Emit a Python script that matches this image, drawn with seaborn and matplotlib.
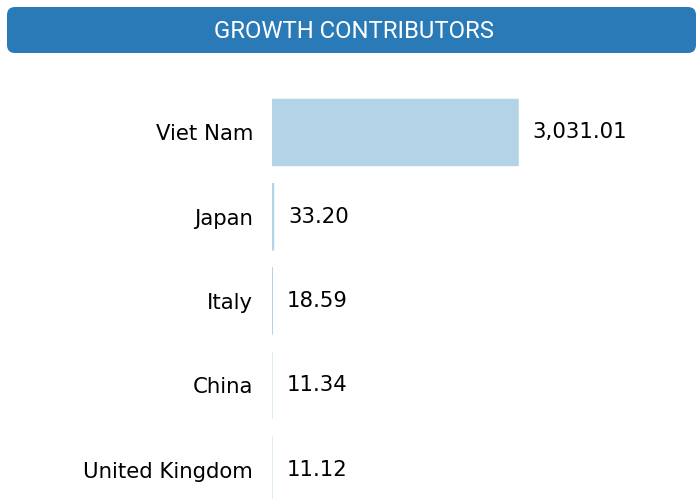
import matplotlib
matplotlib.use("Agg")
import matplotlib.pyplot as plt
from matplotlib.patches import FancyBboxPatch
import seaborn as sns
import pandas as pd

countries = ["Viet Nam", "Japan", "Italy", "China", "United Kingdom"]
values = [3031.01, 33.20, 18.59, 11.34, 11.12]
value_labels = ["3,031.01", "33.20", "18.59", "11.34", "11.12"]
title = "GROWTH CONTRIBUTORS"

df = pd.DataFrame({"country": countries, "value": values})

sns.set_style("white")
plt.rcParams["font.family"] = ["DejaVu Sans"]

W, H, DPI = 6.97, 4.99, 100
fig = plt.figure(figsize=(W, H), dpi=DPI)

# plot area: left edge at 272 px, top at 90 px, running to the bottom edge
ax = fig.add_axes([271.5 / 697, 0.0, 425.5 / 697, (499 - 90) / 499])
sns.barplot(data=df, x="value", y="country", orient="h", color="#b3d4e6",
            width=0.8, saturation=1, linewidth=0, ax=ax)
# keep the very thin bars visible instead of snapping them away
for bar in ax.patches:
    bar.set_snap(False)

ax.set_xlim(0, 5215)
ax.set_ylim(4.350, -0.504)
ax.set_xlabel("")
ax.set_ylabel("")
ax.set_xticks([])
ax.tick_params(axis="y", length=0, pad=13.4, labelsize=15.3, labelcolor="black")
for s in ax.spines.values():
    s.set_visible(False)

ax.bar_label(ax.containers[0], labels=value_labels, padding=10,
             fontsize=15.3, color="black")

# header banner
banner = FancyBboxPatch((0.07, (499 - 53) / 100), 6.89, 0.46,
                        boxstyle="round,pad=0,rounding_size=0.08",
                        transform=fig.dpi_scale_trans, facecolor="#2a7ab8",
                        edgecolor="none", zorder=0)
fig.patches.append(banner)
fig.text(354 / 697, (499 - 31) / 499, title, color="white", fontsize=17.2,
         family="Roboto", ha="center", va="center")

fig.savefig("out.png", dpi=DPI)
